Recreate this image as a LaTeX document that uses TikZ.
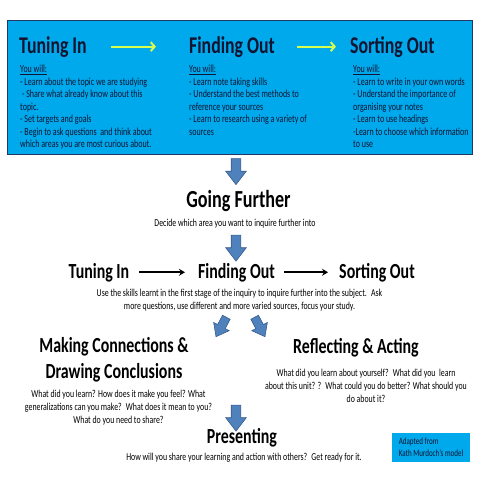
\documentclass[tikz,border=0pt]{standalone}
\usepackage{fontspec}
\setmainfont{Carlito}[FakeStretch=0.74]
\usepackage{tikz}
\usetikzlibrary{shapes,shapes.arrows,calc,positioning}
\usetikzlibrary{arrows.meta}
\definecolor{boxblue}{RGB}{0,168,236}
\definecolor{boxline}{RGB}{31,56,100}
\definecolor{navytext}{RGB}{18,20,48}
\definecolor{limearrow}{RGB}{214,255,80}
\definecolor{arrblue}{RGB}{79,129,189}
\definecolor{arrline}{RGB}{56,93,138}
\newcommand{\bigfont}{\bfseries\fontsize{24}{26}\selectfont}
\newcommand{\midfont}{\bfseries\fontsize{21.5}{26}\selectfont}
\newcommand{\bodyfont}{\fontsize{10.8}{12.5}\selectfont}

\begin{document}
\begin{tikzpicture}%
  [x=1pt, y=-1pt, text=black, inner sep=0pt,
   bighead/.style={anchor=base west, font=\bigfont, text=navytext},
   youwill/.style={anchor=north west, align=left, font=\bodyfont, text=navytext},
   midhead/.style={anchor=base, font=\midfont},
   bodytext/.style={anchor=north, align=center, font=\fontsize{10.6}{13}\selectfont},
   limearr/.style={line width=2pt, draw=limearrow, -{Straight Barb[length=4pt,width=9pt]}},
   blackarr/.style={line width=1.6pt, -{Stealth[length=6pt,width=7pt]}},
   blockarr/.style={single arrow, draw=arrline, fill=arrblue, line width=0.6pt,
     minimum height=26pt, inner xsep=0pt, inner ysep=4.5pt,
     single arrow head extend=5.5pt, single arrow tip angle=75}]

  \useasboundingbox (0,0) rectangle (480,480);

  \node (topbox) at (239.75,87.5) [rectangle, draw=boxline, line width=1pt, fill=boxblue,
        minimum width=464.5pt, minimum height=134pt] {};

  \node (tin) at (19,53) [bighead] {Tuning In};
  \node (fout) at (189,53) [bighead] {Finding Out};
  \node (sort) at (350,53) [bighead] {Sorting Out};

  \draw[limearr, shorten <=24pt, shorten >=33pt] (tin.east) -- (fout.west |- tin.east);
  \draw[limearr, shorten <=22pt, shorten >=14pt] (fout.east) -- (sort.west |- fout.east);

  \node (tinwill) at (20,65) [youwill]
        {\underline{You will:}\\
         - Learn about the topic we are studying\\
         \ - Share what already know about this\\
         topic.\\
         - Set targets and goals\\
         - Begin to ask questions \ and think about\\
         which areas you are most curious about.};
  \node (foutwill) at (189,65) [youwill]
        {\underline{You will:}\\
         - Learn note taking skills\\
         - Understand the best methods to\\
         reference your sources\\
         - Learn to research using a variety of\\
         sources};
  \node (sortwill) at (353,65) [youwill]
        {\underline{You will:}\\
         - Learn to write in your own words\\
         - Understand the importance of\\
         organising your notes\\
         - Learn to use headings\\
         -Learn to choose which information\\
         to use};

  \node (arr1) at (236,168.5) [blockarr, rotate=-90] {};

  \node (gofur) at (238.5,207) [anchor=base, font=\bfseries\fontsize{24.5}{26}\selectfont] {Going Further};
  \node (decide) at (235,219) [bodytext] {Decide which area you want to inquire further into};

  \node (arr2) at (236,245) [blockarr, rotate=-90] {};

  \node (rtin) at (99,278) [midhead] {Tuning In};
  \node (rfout) at (236.5,278) [midhead] {Finding Out};
  \node (rsort) at (377,278) [midhead] {Sorting Out};

  \draw[blackarr, shorten <=10pt, shorten >=13pt] (rtin.east) -- (rfout.west |- rtin.east);
  \draw[blackarr, shorten <=9pt, shorten >=11pt] (rfout.east) -- (rsort.west |- rtin.east);

  \node (useskills) at (239.5,289) [bodytext]
        {Use the skills learnt in the first stage of the inquiry to inquire further into the subject. \ Ask\\
         more questions, use different and more varied sources, focus your study.};

  \node (arrl) at (222.5,324.5) [blockarr, minimum height=22pt, inner ysep=4pt,
        single arrow head extend=4.5pt, rotate=-118] {};
  \node (arrr) at (258.5,324.5) [blockarr, minimum height=22pt, inner ysep=4pt,
        single arrow head extend=4.5pt, rotate=-62] {};

  \node (mkcon) at (114,337) [anchor=north, align=center, font=\midfont]
        {Making Connections \&\\Drawing Conclusions};
  \node (mkconq) at (118.5,390) [bodytext]
        {What did you learn? How does it make you feel? What\\
         generalizations can you make? \ What does it mean to you?\\
         What do you need to share?};

  \node (refl) at (356,353) [midhead] {Reflecting \& Acting};
  \node (reflq) at (366,369) [bodytext]
        {What did you learn about yourself? \ What did you \ learn\\
         about this unit? ? \ What could you do better? What should you\\
         do about it?};

  \node (arr3) at (236,415) [blockarr, rotate=-90] {};

  \node (pres) at (242,443) [midhead] {Presenting};
  \node (presq) at (244,453) [bodytext]
        {How will you share your learning and action with others? \ Get ready for it.};

  \node (note) at (431,447.5) [rectangle, fill=boxblue, minimum width=78pt, minimum height=29pt,
        align=left, text=navytext, font=\fontsize{9.5}{12}\selectfont]
        {Adapted from\\Kath Murdoch's model};

\end{tikzpicture}
\end{document}
